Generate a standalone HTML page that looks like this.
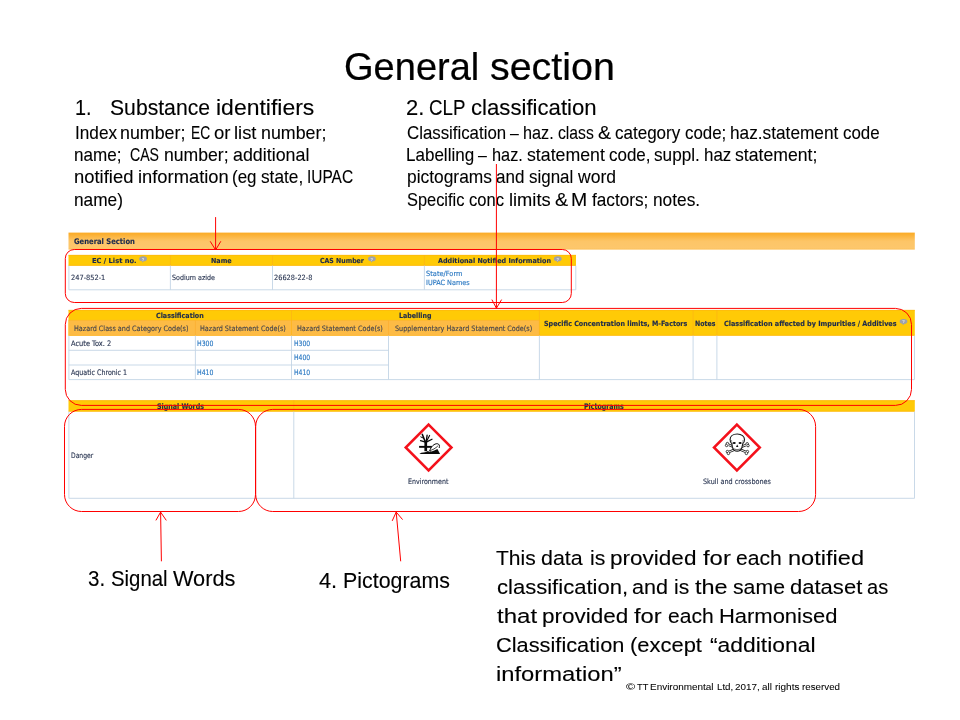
<!DOCTYPE html>
<html lang="en"><head><meta charset="utf-8"><title>General section</title>
<style>
html,body{margin:0;padding:0;background:#fff}
#s{position:relative;will-change:transform;width:960px;height:720px;overflow:hidden;background:#fff}
#s svg{position:absolute;left:0;top:0}
.t,.w{position:absolute;white-space:pre;line-height:1;transform-origin:0 0;color:#000}
.ln{position:absolute;left:0;width:960px;height:0;line-height:1;color:#000;white-space:pre}
.w{top:0;color:inherit}
.l{font-family:"Liberation Sans", sans-serif;-webkit-text-stroke:0.006em}
.d{font-family:"DejaVu Sans", "Liberation Sans", sans-serif;-webkit-text-stroke:0.02em}
.b{font-weight:bold}
</style></head><body><div id="s">
<svg width="960" height="720" viewBox="0 0 960 720">
<defs>
<linearGradient id="gbar" x1="0" y1="0" x2="0" y2="1">
<stop offset="0" stop-color="#fbab24"/><stop offset="0.12" stop-color="#fbb033"/><stop offset="0.5" stop-color="#fdc567"/><stop offset="0.9" stop-color="#fdc76c"/><stop offset="1" stop-color="#fcc059"/>
</linearGradient>
</defs>
<!-- General Section bar -->
<rect x="68.5" y="232.6" width="846.3" height="17" fill="url(#gbar)"/>

<!-- table 1 -->
<g>
<rect x="68.5" y="255" width="507.5" height="10.7" fill="#ffca06"/>
<path d="M68.5 255.3H576M68.5 265.4H576" stroke="#fdb60f" stroke-width="0.7" fill="none"/>
<path d="M68.9 265.7V289.8H575.8V265.7" fill="none" stroke="#c3d5e5" stroke-width="0.9"/>
<path d="M170.4 255V265.6M272.5 255V265.6M424.4 255V265.6" stroke="#fdb414" stroke-width="0.7" fill="none"/>
<path d="M170.4 265.6V289.8M272.5 265.6V289.8M424.4 265.6V289.8" stroke="#c3d5e5" stroke-width="0.9" fill="none"/>
<g transform="translate(139.2 256.4)"><path d="M0 2.5 A3.9 2.5 0 1 1 4.4 4.95 L3.4 6.4 L3 4.95 A3.9 2.5 0 0 1 0 2.5Z" fill="#9da1ac"/>
<text x="3.9" y="4.2" font-family="'Liberation Sans',sans-serif" font-weight="bold" font-size="4.2" fill="#e9eaee" text-anchor="middle">?</text></g>
<g transform="translate(368 256.4)"><path d="M0 2.5 A3.9 2.5 0 1 1 4.4 4.95 L3.4 6.4 L3 4.95 A3.9 2.5 0 0 1 0 2.5Z" fill="#9da1ac"/>
<text x="3.9" y="4.2" font-family="'Liberation Sans',sans-serif" font-weight="bold" font-size="4.2" fill="#e9eaee" text-anchor="middle">?</text></g>
<g transform="translate(553.9 256.4)"><path d="M0 2.5 A3.9 2.5 0 1 1 4.4 4.95 L3.4 6.4 L3 4.95 A3.9 2.5 0 0 1 0 2.5Z" fill="#9da1ac"/>
<text x="3.9" y="4.2" font-family="'Liberation Sans',sans-serif" font-weight="bold" font-size="4.2" fill="#e9eaee" text-anchor="middle">?</text></g>
</g>

<!-- table 2 -->
<g>
<rect x="68.5" y="310" width="846.3" height="25.6" fill="#ffca06"/>
<rect x="68.5" y="320.3" width="470.9" height="15.3" fill="#fdbb45"/>
<path d="M68.5 310.3H914.8M539.4 335.4H914.8" stroke="#fdb60f" stroke-width="0.7" fill="none"/>
<path d="M68.5 320.3H539.4M68.5 335.4H539.4" stroke="#fcb232" stroke-width="0.6" fill="none"/>
<path d="M291.5 310V335.6M539.4 310V335.6M693.1 310V335.6M716.9 310V335.6" stroke="#fdb414" stroke-width="0.7" fill="none"/>
<path d="M195.4 320.3V335.6M388.5 320.3V335.6" stroke="#fcae2e" stroke-width="0.7" fill="none"/>
<path d="M68.9 335.7V379.6H914.5V335.7" fill="none" stroke="#c3d5e5" stroke-width="0.9"/>
<path d="M195.4 335.6V379.6M291.5 335.6V379.6M388.5 335.6V379.6M539.4 335.6V379.6M693.1 335.6V379.6M716.9 335.6V379.6" stroke="#c3d5e5" stroke-width="0.9" fill="none"/>
<path d="M68.8 350.3H388.5M68.8 365H388.5" stroke="#c3d5e5" stroke-width="0.9" fill="none"/>
<g transform="translate(899.6 319)"><path d="M0 2.5 A3.9 2.5 0 1 1 4.4 4.95 L3.4 6.4 L3 4.95 A3.9 2.5 0 0 1 0 2.5Z" fill="#9da1ac"/>
<text x="3.9" y="4.2" font-family="'Liberation Sans',sans-serif" font-weight="bold" font-size="4.2" fill="#e9eaee" text-anchor="middle">?</text></g>
</g>

<!-- table 3 -->
<g>
<rect x="68.5" y="400.3" width="846.3" height="11.2" fill="#ffca06"/>
<path d="M68.5 400.6H914.8M68.5 411.3H914.8" stroke="#fdb60f" stroke-width="0.7" fill="none"/>
<path d="M293.8 400.3V411.5" stroke="#fdb414" stroke-width="0.7" fill="none"/>
<path d="M68.9 411.6V498.3H914.5V411.6" fill="none" stroke="#c3d5e5" stroke-width="0.9"/>
<path d="M293.8 411.5V498.3" stroke="#c3d5e5" stroke-width="0.9" fill="none"/>
</g>

<!-- pictogram: environment -->
<g>
<path d="M428.6 424.6L451.5 447.5L428.6 470.4L405.7 447.5Z" fill="#fff" stroke="#f4111b" stroke-width="2.5"/>
<g fill="#0a0a0a" stroke="none">
<path d="M419.4 454.1L421.3 452.7C424 452.5 426.2 451.9 427.9 450.9L429.3 451.7L430.6 451.2L431.6 451.6L434.2 450.4L437.4 449.0L440.1 454.1Z"/>
<rect x="424.4" y="440.6" width="2.7" height="10.6"/>
<rect x="419.1" y="445.9" width="13.7" height="1.9"/>
</g>
<g fill="none" stroke="#0a0a0a" stroke-linecap="round" stroke-linejoin="round">
<path d="M425.2 441.6L422.3 434.4" stroke-width="1.5"/>
<path d="M426.3 441.4L427.1 435.2" stroke-width="1.3"/>
<path d="M426.6 441.2L429.6 435.4" stroke-width="1.1"/>
<path d="M426.8 441.9L432 439.2" stroke-width="1.2"/>
<path d="M424.8 441.8L420.5 440.6" stroke-width="1.2"/>
<path d="M423.5 438.2L420.8 436.9" stroke-width="1"/>
<path d="M429.8 450.6C430.8 446.6 434.4 443.5 437.3 443.7C439.2 443.9 439.9 445.6 439.3 447.6" stroke-width="1" fill="#fff"/>
<path d="M429.8 450.6C432.6 450 435.4 448.4 437.6 446.2" stroke-width="0.8"/>
</g>
</g>

<!-- pictogram: skull -->
<g>
<path d="M736.9 424.6L759.8 447.5L736.9 470.4L714 447.5Z" fill="#fff" stroke="#f4111b" stroke-width="2.5"/>
<g fill="none" stroke-linecap="round" stroke-linejoin="round">
<path d="M727.6 444.4L746.4 452.2M746.9 444.6L728.4 452.2" stroke="#1c1c1c" stroke-width="2.4"/>
<path d="M727.6 444.4L746.4 452.2M746.9 444.6L728.4 452.2" stroke="#fff" stroke-width="0.9"/>
</g>
<g fill="#fff" stroke="#1c1c1c" stroke-width="0.85">
<circle cx="727.4" cy="443.6" r="1.25"/><circle cx="726.6" cy="445.4" r="1.25"/>
<circle cx="747.2" cy="443.8" r="1.25"/><circle cx="748" cy="445.6" r="1.25"/>
<circle cx="727.4" cy="451.6" r="1.25"/><circle cx="728.4" cy="453.4" r="1.25"/>
<circle cx="747.4" cy="451.6" r="1.25"/><circle cx="746.4" cy="453.4" r="1.25"/>
</g>
<path d="M727.4 444.4L729 445.2M747.2 444.6L745.6 445.4M728 452.5L729.4 451.8M746.8 452.5L745.4 451.8" stroke="#fff" stroke-width="1" fill="none"/>
<path d="M737.2 434C732.6 434 730.1 436.6 730.1 439.4C730 441.4 730.8 442.8 731.8 443.6L732.4 447.2C733.2 449.6 735 451.2 737.2 451.2C739.4 451.2 741.2 449.6 742 447.2L742.8 443.6C743.8 442.8 744.5 441.4 744.5 439.4C744.5 436.6 741.8 434 737.2 434Z" fill="#fff" stroke="#1c1c1c" stroke-width="1.15"/>
<path d="M733.2 447.8C734.2 450 735.6 450.8 737.2 450.8C738.8 450.8 740.2 450 741.2 447.8C739.8 448.8 738.4 449.1 737.2 449.1C736 449.1 734.6 448.8 733.2 447.8Z" fill="#777"/>
<g fill="#0a0a0a">
<ellipse cx="734.2" cy="443" rx="1.55" ry="1.05"/>
<ellipse cx="740.1" cy="443" rx="1.55" ry="1.05"/>
<path d="M737.2 444.6L736 446.9H738.4Z"/>
</g>
<path d="M731.6 440C731.4 442 732 443.2 732.6 444M742.9 440C743.1 442 742.5 443.2 741.9 444" stroke="#555" stroke-width="0.6" fill="none"/>
</g>
</svg>

<div class="ln l" style="top:47.00px;font-size:39.50px"><span class="w" style="left:344.04px;transform:scaleX(0.9628)">General</span> <span class="w" style="left:490.11px;transform:scaleX(0.9976)">section</span></div>
<span class="t l" style="left:74.68px;top:97.00px;font-size:21.60px;transform:scaleX(0.9182)">1.</span>
<div class="ln l" style="top:97.00px;font-size:21.60px"><span class="w" style="left:110.40px;transform:scaleX(0.9801)">Substance</span> <span class="w" style="left:215.77px;transform:scaleX(1.0638)">identifiers</span></div>
<div class="ln l" style="top:125.30px;font-size:17.80px"><span class="w" style="left:74.53px;transform:scaleX(0.9667)">Index</span> <span class="w" style="left:120.47px;transform:scaleX(1.0020)">number;</span> <span class="w" style="left:190.54px;transform:scaleX(0.7740)">EC</span> <span class="w" style="left:213.59px;transform:scaleX(1.0430)">or</span> <span class="w" style="left:234.23px;transform:scaleX(1.0332)">list</span> <span class="w" style="left:260.58px;transform:scaleX(1.0020)">number;</span></div>
<div class="ln l" style="top:147.30px;font-size:17.80px"><span class="w" style="left:74.14px;transform:scaleX(0.9602)">name;</span> <span class="w" style="left:130.31px;transform:scaleX(0.7938)">CAS</span> <span class="w" style="left:163.67px;transform:scaleX(0.9906)">number;</span> <span class="w" style="left:232.77px;transform:scaleX(1.0034)">additional</span></div>
<div class="ln l" style="top:169.40px;font-size:17.80px"><span class="w" style="left:74.06px;transform:scaleX(1.0354)">notified</span> <span class="w" style="left:137.99px;transform:scaleX(1.0315)">information</span> <span class="w" style="left:232.42px;transform:scaleX(0.9518)">(eg</span> <span class="w" style="left:260.58px;transform:scaleX(0.9701)">state,</span> <span class="w" style="left:307.07px;transform:scaleX(0.8693)">IUPAC</span></div>
<span class="t l" style="left:74.13px;top:191.50px;font-size:17.80px;transform:scaleX(0.9716)">name)</span>
<div class="ln l" style="top:97.00px;font-size:21.60px"><span class="w" style="left:406.28px;transform:scaleX(1.0176)">2.</span> <span class="w" style="left:429.25px;transform:scaleX(0.8652)">CLP</span> <span class="w" style="left:471.11px;transform:scaleX(1.0262)">classification</span></div>
<div class="ln l" style="top:125.30px;font-size:17.80px"><span class="w" style="left:406.90px;transform:scaleX(0.9460)">Classification</span> <span class="w" style="left:509.92px;transform:scaleX(0.8911)">–</span> <span class="w" style="left:523.26px;transform:scaleX(0.9128)">haz.</span> <span class="w" style="left:558.23px;transform:scaleX(0.8845)">class</span> <span class="w" style="left:598.12px;transform:scaleX(1.1004)">&amp;</span> <span class="w" style="left:615.05px;transform:scaleX(0.9569)">category</span> <span class="w" style="left:684.58px;transform:scaleX(0.9493)">code;</span> <span class="w" style="left:730.38px;transform:scaleX(0.9698)">haz.statement</span> <span class="w" style="left:842.61px;transform:scaleX(0.9514)">code</span></div>
<div class="ln l" style="top:147.30px;font-size:17.80px"><span class="w" style="left:406.24px;transform:scaleX(0.9573)">Labelling</span> <span class="w" style="left:478.25px;transform:scaleX(0.8955)">–</span> <span class="w" style="left:491.66px;transform:scaleX(0.9178)">haz.</span> <span class="w" style="left:526.81px;transform:scaleX(0.9975)">statement</span> <span class="w" style="left:608.64px;transform:scaleX(0.9539)">code,</span> <span class="w" style="left:654.35px;transform:scaleX(0.9663)">suppl.</span> <span class="w" style="left:704.46px;transform:scaleX(0.9508)">haz</span> <span class="w" style="left:734.93px;transform:scaleX(0.9914)">statement;</span></div>
<div class="ln l" style="top:169.40px;font-size:17.80px"><span class="w" style="left:406.62px;transform:scaleX(0.9770)">pictograms</span> <span class="w" style="left:495.70px;transform:scaleX(0.9559)">and</span> <span class="w" style="left:528.79px;transform:scaleX(0.9516)">signal</span> <span class="w" style="left:577.85px;transform:scaleX(0.9866)">word</span></div>
<div class="ln l" style="top:191.50px;font-size:17.80px"><span class="w" style="left:407.20px;transform:scaleX(0.9221)">Specific</span> <span class="w" style="left:469.28px;transform:scaleX(0.9297)">conc</span> <span class="w" style="left:508.79px;transform:scaleX(1.0281)">limits</span> <span class="w" style="left:554.50px;transform:scaleX(1.1043)">&amp;</span> <span class="w" style="left:571.35px;transform:scaleX(1.0925)">M</span> <span class="w" style="left:591.72px;transform:scaleX(0.9669)">factors;</span> <span class="w" style="left:652.61px;transform:scaleX(0.9724)">notes.</span></div>
<div class="ln l" style="top:567.60px;font-size:21.60px"><span class="w" style="left:87.90px;transform:scaleX(0.9505)">3.</span> <span class="w" style="left:110.54px;transform:scaleX(0.9438)">Signal</span> <span class="w" style="left:173.39px;transform:scaleX(1.0066)">Words</span></div>
<div class="ln l" style="top:569.80px;font-size:21.60px"><span class="w" style="left:319.30px;transform:scaleX(1.0074)">4.</span> <span class="w" style="left:342.91px;transform:scaleX(0.9897)">Pictograms</span></div>
<div class="ln l" style="top:547.50px;font-size:20.50px"><span class="w" style="left:496.30px;transform:scaleX(1.0252)">This</span> <span class="w" style="left:541.10px;transform:scaleX(1.0451)">data</span> <span class="w" style="left:589.85px;transform:scaleX(1.0321)">is</span> <span class="w" style="left:610.19px;transform:scaleX(1.0991)">provided</span> <span class="w" style="left:702.63px;transform:scaleX(1.1630)">for</span> <span class="w" style="left:736.02px;transform:scaleX(1.0293)">each</span> <span class="w" style="left:787.74px;transform:scaleX(1.1499)">notified</span></div>
<div class="ln l" style="top:576.50px;font-size:20.50px"><span class="w" style="left:496.90px;transform:scaleX(1.0752)">classification,</span> <span class="w" style="left:632.29px;transform:scaleX(1.0531)">and</span> <span class="w" style="left:674.35px;transform:scaleX(1.0257)">is</span> <span class="w" style="left:694.58px;transform:scaleX(1.1451)">the</span> <span class="w" style="left:732.50px;transform:scaleX(1.0362)">same</span> <span class="w" style="left:789.78px;transform:scaleX(1.0744)">dataset</span> <span class="w" style="left:867.38px;transform:scaleX(0.9775)">as</span></div>
<div class="ln l" style="top:605.60px;font-size:20.50px"><span class="w" style="left:496.60px;transform:scaleX(1.1721)">that</span> <span class="w" style="left:542.04px;transform:scaleX(1.0972)">provided</span> <span class="w" style="left:634.34px;transform:scaleX(1.1603)">for</span> <span class="w" style="left:667.66px;transform:scaleX(1.0278)">each</span> <span class="w" style="left:719.37px;transform:scaleX(1.0709)">Harmonised</span></div>
<div class="ln l" style="top:634.70px;font-size:20.50px"><span class="w" style="left:495.64px;transform:scaleX(1.0629)">Classification</span> <span class="w" style="left:630.06px;transform:scaleX(1.0703)">(except</span> <span class="w" style="left:709.53px;transform:scaleX(1.1152)">“additional</span></div>
<span class="t l" style="left:495.74px;top:663.80px;font-size:20.50px;transform:scaleX(1.1601)">information”</span>
<div class="ln l" style="top:681.50px;font-size:9.60px"><span class="w" style="left:625.80px;transform:scaleX(1.3068)">©</span> <span class="w" style="left:637.28px;transform:scaleX(0.9702)">TT</span> <span class="w" style="left:650.41px;transform:scaleX(1.0366)">Environmental</span> <span class="w" style="left:716.74px;transform:scaleX(1.0141)">Ltd,</span> <span class="w" style="left:735.40px;transform:scaleX(1.0263)">2017,</span> <span class="w" style="left:762.47px;transform:scaleX(1.0242)">all</span> <span class="w" style="left:775.06px;transform:scaleX(1.0402)">rights</span> <span class="w" style="left:802.28px;transform:scaleX(1.0197)">reserved</span></div>
<span class="t d b" style="left:73.50px;top:237.80px;font-size:7.70px;color:#1c2a4d;transform:scaleX(0.8845)">General Section</span>
<span class="t d b" style="left:91.90px;top:257.90px;font-size:6.90px;color:#1c2a4d;transform:scaleX(0.9721)">EC / List no.</span>
<span class="t d b" style="left:211.00px;top:257.90px;font-size:6.90px;color:#1c2a4d;transform:scaleX(0.9249)">Name</span>
<span class="t d b" style="left:320.00px;top:257.90px;font-size:6.90px;color:#1c2a4d;transform:scaleX(0.9023)">CAS Number</span>
<span class="t d b" style="left:437.50px;top:257.90px;font-size:6.90px;color:#1c2a4d;transform:scaleX(0.9320)">Additional Notified Information</span>
<span class="t d" style="left:70.60px;top:274.00px;font-size:7.20px;color:#2c3854;transform:scaleX(0.9229)">247-852-1</span>
<span class="t d" style="left:172.10px;top:274.00px;font-size:7.20px;color:#2c3854;transform:scaleX(0.8860)">Sodium azide</span>
<span class="t d" style="left:274.10px;top:274.00px;font-size:7.20px;color:#2c3854;transform:scaleX(0.9195)">26628-22-8</span>
<span class="t d" style="left:426.00px;top:269.70px;font-size:7.20px;color:#2a78c2;transform:scaleX(0.9229)">State/Form</span>
<span class="t d" style="left:426.20px;top:279.30px;font-size:7.20px;color:#2a78c2;transform:scaleX(0.9021)">IUPAC Names</span>
<span class="t d b" style="left:156.30px;top:311.70px;font-size:7.10px;color:#1c2a4d;transform:scaleX(0.8958)">Classification</span>
<span class="t d b" style="left:399.10px;top:311.70px;font-size:7.10px;color:#1c2a4d;transform:scaleX(0.8867)">Labelling</span>
<span class="t d" style="left:74.40px;top:325.00px;font-size:7.40px;color:#45454d;transform:scaleX(0.8731)">Hazard Class and Category Code(s)</span>
<span class="t d" style="left:200.30px;top:325.00px;font-size:7.40px;color:#45454d;transform:scaleX(0.8745)">Hazard Statement Code(s)</span>
<span class="t d" style="left:297.10px;top:325.00px;font-size:7.40px;color:#45454d;transform:scaleX(0.8745)">Hazard Statement Code(s)</span>
<span class="t d" style="left:395.00px;top:325.00px;font-size:7.40px;color:#45454d;transform:scaleX(0.8728)">Supplementary Hazard Statement Code(s)</span>
<span class="t d b" style="left:544.40px;top:319.60px;font-size:7.10px;color:#1c2a4d;transform:scaleX(0.8983)">Specific Concentration limits, M-Factors</span>
<span class="t d b" style="left:694.80px;top:319.60px;font-size:7.10px;color:#1c2a4d;transform:scaleX(0.8778)">Notes</span>
<span class="t d b" style="left:723.80px;top:319.60px;font-size:7.10px;color:#1c2a4d;transform:scaleX(0.9119)">Classification affected by Impurities / Additives</span>
<span class="t d" style="left:70.60px;top:339.60px;font-size:7.60px;color:#2c3854;transform:scaleX(0.8746)">Acute Tox. 2</span>
<span class="t d" style="left:70.60px;top:369.00px;font-size:7.60px;color:#2c3854;transform:scaleX(0.8372)">Aquatic Chronic 1</span>
<span class="t d" style="left:197.10px;top:339.60px;font-size:7.40px;color:#2a78c2;transform:scaleX(0.8366)">H300</span>
<span class="t d" style="left:197.10px;top:369.00px;font-size:7.40px;color:#2a78c2;transform:scaleX(0.8366)">H410</span>
<span class="t d" style="left:293.80px;top:339.60px;font-size:7.40px;color:#2a78c2;transform:scaleX(0.8266)">H300</span>
<span class="t d" style="left:293.80px;top:354.30px;font-size:7.40px;color:#2a78c2;transform:scaleX(0.8266)">H400</span>
<span class="t d" style="left:293.80px;top:369.00px;font-size:7.40px;color:#2a78c2;transform:scaleX(0.8266)">H410</span>
<span class="t d b" style="left:157.30px;top:402.60px;font-size:7.70px;color:#1c2a4d;transform:scaleX(0.8254)">Signal Words</span>
<span class="t d b" style="left:583.80px;top:402.60px;font-size:7.70px;color:#1c2a4d;transform:scaleX(0.8158)">Pictograms</span>
<span class="t d" style="left:70.80px;top:451.70px;font-size:7.40px;color:#2c3854;transform:scaleX(0.8173)">Danger</span>
<span class="t d" style="left:408.20px;top:478.20px;font-size:7.40px;color:#2c3854;transform:scaleX(0.8564)">Environment</span>
<span class="t d" style="left:703.30px;top:478.20px;font-size:7.40px;color:#2c3854;transform:scaleX(0.8760)">Skull and crossbones</span>
<svg width="960" height="720" viewBox="0 0 960 720">
<g fill="none" stroke="#ff0000" stroke-width="1">
<rect x="65.3" y="249.5" width="506" height="53" rx="9" ry="9"/>
<rect x="65.3" y="308.4" width="846.2" height="97" rx="16" ry="16"/>
<rect x="64.5" y="409.4" width="191" height="102.1" rx="17" ry="17"/>
<rect x="255.7" y="409.4" width="559.9" height="102.1" rx="17" ry="17"/>
<path d="M215.6 217.1V250M210.2 241.3L215.6 250L220.8 241.3"/>
<path d="M496.4 164V308.2M491.9 299.6L496.4 308.2L501.6 299.6"/>
<path d="M161.4 561.3L160.6 512.1M155.9 520.4L160.6 512.1L166.3 520.4"/>
<path d="M400.7 561.3L396.2 512.1M392.2 520.9L396.2 512.1L402.6 519.6"/>
</g>

</svg>
</div></body></html>
